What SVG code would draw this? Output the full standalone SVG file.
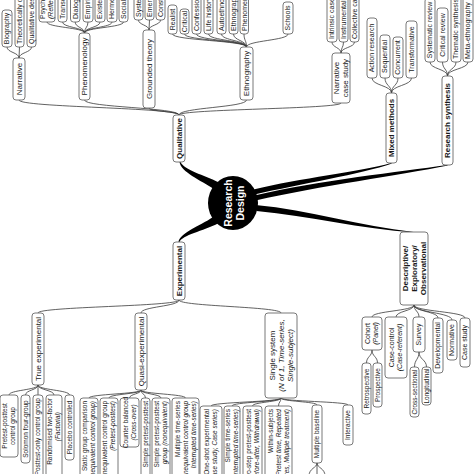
<svg xmlns="http://www.w3.org/2000/svg" width="474" height="474" viewBox="0 0 474 474">
<style>
.b{fill:#fff;stroke:#6a6a6a;stroke-width:.9}
.c{fill:none;stroke:#3a3a3a;stroke-width:.8}
.k{fill:#000}
text{font-family:"Liberation Sans",Arial,sans-serif;fill:#1a1a1a}
.t1{font-size:8px;font-weight:bold}
.t2{font-size:8px}
.t3{font-size:7px}
.t4{font-size:6.5px}
.i{font-style:italic}
.w{fill:#fff;font-size:10.5px;font-weight:bold}
</style>
<rect width="474" height="474" fill="#fff"/>
<g id="connectors">
<path class="k" d="M179.5,162 C181,172 200,180 214.8,189.4 L219.2,182.6 C204,175 184,170 180.5,162 Z"/>
<path class="k" d="M178.5,242 C180,233 198,227 213.6,216.8 L218.4,223.2 C203,231 182,235 179.5,242 Z"/>
<path class="k" d="M253.5,189.5 C300,178 360,172 391,163 L392,163.5 C362,174 300,184 254.5,194.5 Z"/>
<path class="k" d="M254.5,195.5 C320,180 400,172 447,165 L448,165.5 C400,175 320,186 255.5,200.5 Z"/>
<path class="k" d="M255.5,205 C310,210 360,226 413.5,232 L414.5,232.5 C360,229 310,216 256.5,211 Z"/>
<g class="c">
<path d="M179,115 C179,107.5 19,107.5 19,100 M179,115 C179,107.5 84.5,107.5 84.5,100 M179,115 C179,111.5 149,111.5 149,108 M179,115 C179,107.5 246.5,107.5 246.5,100 M179,115 C179,109 341,109 341,103"/>
<path d="M19,58 C19,52.5 7,52.5 7,47 M19,58 L19.5,47 M19,58 C19,52.5 31.5,52.5 31.5,47"/>
<path d="M84.5,33 C84.5,27.5 47,27.5 47,22 M84.5,33 C84.5,27.5 62.5,27.5 62.5,22 M84.5,33 C84.5,27.5 75.2,27.5 75.2,22 M84.5,33 C84.5,27.5 88,27.5 88,22 M84.5,33 C84.5,27.5 100,27.5 100,22 M84.5,33 C84.5,27.5 112,27.5 112,22 M84.5,33 C84.5,27.5 123.5,27.5 123.5,22"/>
<path d="M149,30 C149,25 138.5,25 138.5,20 M149,30 L149.5,20 M149,30 C149,25 160.5,25 160.5,20"/>
<path d="M246.5,47 C246.5,40.5 172.5,40.5 172.5,34 M246.5,47 C246.5,40.5 184.5,40.5 184.5,34 M246.5,47 C246.5,40.5 196.5,40.5 196.5,34 M246.5,47 C246.5,40.5 208.5,40.5 208.5,34 M246.5,47 C246.5,40.5 221.5,40.5 221.5,34 M246.5,47 C246.5,40.5 233.5,40.5 233.5,34 M246.5,47 C246.5,40.5 244,40.5 244,34 M246.5,47 C246.5,40.5 288,40.5 288,34"/>
<path d="M341,53 C341,47.5 332,47.5 332,42 M341,53 C341,47.5 343.5,47.5 343.5,42 M341,53 C341,47.5 354.5,47.5 354.5,42"/>
<path d="M391.5,93 C391.5,85.5 372,85.5 372,78 M391.5,93 C391.5,85.5 385,85.5 385,78 M391.5,93 C391.5,85.5 398,85.5 398,78 M391.5,93 C391.5,85.5 411.5,85.5 411.5,78"/>
<path d="M447.5,76 C447.5,69 430,69 430,62 M447.5,76 C447.5,69 442.5,69 442.5,62 M447.5,76 C447.5,69 456,69 456,62 M447.5,76 C447.5,69 468,69 468,62"/>
<path d="M179,300 C179,306.5 38,306.5 38,313 M179,300 C179,306.5 141,306.5 141,313 M179,300 C179,306.5 281,306.5 281,313"/>
<path d="M38,385 C38,390 9,390 9,395 M38,385 C38,390 25.5,390 25.5,395 M38,385 L38,395 M38,385 C38,390 54,390 54,395 M38,385 C38,390 69.5,390 69.5,395"/>
<path d="M141,390 C141,394 89,394 89,398 M141,390 C141,394 109,394 109,398 M141,390 C141,394 129.5,394 129.5,398 M141,390 C141,394 145.5,394 145.5,398 M141,390 C141,394 161,394 161,398 M141,390 C141,394 185.5,394 185.5,398"/>
<path d="M281,398 C281,402 211,402 211,406 M281,398 C281,402 232,402 232,406 M281,398 C281,402 252.5,402 252.5,406 M281,398 C281,402 278.5,402 278.5,406 M281,398 C281,401.5 317,401.5 317,405 M281,398 C281,401.5 348,401.5 348,405"/>
<path d="M317,463 C317,468 309,468 309,476 M317,463 L317,476 M317,463 C317,468 325,468 325,476"/>
<path d="M414,305 C414,311 372,311 372,317 M414,305 C414,311 396,311 396,317 M414,305 C414,311 419,311 419,317 M414,305 C414,311.5 438,311.5 438,318 M414,305 C414,312.5 452,312.5 452,320 M414,305 C414,311.5 465,311.5 465,318"/>
<path d="M372,350 C372,356.5 366.5,356.5 366.5,363 M372,350 C372,356.5 377.5,356.5 377.5,363"/>
<path d="M419,352 C419,359.5 414.5,359.5 414.5,367 M419,352 C419,359.5 426.5,359.5 426.5,367"/>
</g>
</g>

<g id="center"><ellipse cx="233" cy="203" rx="25" ry="27" fill="#000"/>
<text class="w" transform="translate(234,203) rotate(-90)" text-anchor="middle"><tspan x="0" y="-2.5">Research</tspan><tspan x="0" y="9.5">Design</tspan></text></g>

<g id="qualitative"><rect class="b" x="173" y="115" width="12" height="47" rx="3"/><text class="t1" transform="translate(179,138.5) rotate(-90)" text-anchor="middle" y="2.8">Qualitative</text></g>
<g id="experimental"><rect class="b" x="173" y="242" width="12" height="58" rx="3"/><text class="t1" transform="translate(179,271) rotate(-90)" text-anchor="middle" y="2.8">Experimental</text></g>
<g id="mixed"><rect class="b" x="386" y="93" width="11" height="70" rx="3"/><text class="t1" transform="translate(391.5,128) rotate(-90)" text-anchor="middle" y="2.8">Mixed methods</text></g>
<g id="synthesis"><rect class="b" x="442" y="76" width="11" height="89" rx="3"/><text class="t1" transform="translate(447.5,120.5) rotate(-90)" text-anchor="middle" y="2.8">Research synthesis</text></g>
<g id="descriptive"><rect class="b" x="400" y="232" width="28" height="73" rx="3"/><text class="t1" transform="translate(414,268.5) rotate(-90)" text-anchor="middle"><tspan x="0" y="-6.2">Descriptive/</tspan><tspan x="0" y="2.8">Exploratory/</tspan><tspan x="0" y="11.8">Observational</tspan></text></g>

<g id="narrative"><rect class="b" x="13" y="58" width="12" height="42" rx="3"/><text class="t2" transform="translate(19,79) rotate(-90)" text-anchor="middle" y="2.8">Narrative</text></g>
<g id="phenomenology"><rect class="b" x="79" y="33" width="11" height="67" rx="3"/><text class="t2" transform="translate(84.5,66.5) rotate(-90)" text-anchor="middle" y="2.8">Phenomenology</text></g>
<g id="grounded"><rect class="b" x="143" y="30" width="12" height="78" rx="3"/><text class="t2" transform="translate(149,69) rotate(-90)" text-anchor="middle" y="2.8">Grounded theory</text></g>
<g id="ethnography"><rect class="b" x="240" y="47" width="13" height="53" rx="3"/><text class="t2" transform="translate(246.5,73.5) rotate(-90)" text-anchor="middle" y="2.8">Ethnography</text></g>
<g id="narrative-case"><rect class="b" x="332" y="53" width="18" height="50" rx="3"/><text class="t2" transform="translate(341,78) rotate(-90)" text-anchor="middle"><tspan x="0" y="-1.7">Narrative</tspan><tspan x="0" y="7.3">case study</tspan></text></g>
<g id="true-exp"><rect class="b" x="32" y="313" width="12" height="72" rx="3"/><text class="t2" transform="translate(38,349) rotate(-90)" text-anchor="middle" y="2.8">True experimental</text></g>
<g id="quasi"><rect class="b" x="135" y="313" width="12" height="77" rx="3"/><text class="t2" transform="translate(141,351.5) rotate(-90)" text-anchor="middle" y="2.8">Quasi-experimental</text></g>
<g id="single"><rect class="b" x="265" y="313" width="32" height="85" rx="3"/><text class="t2" transform="translate(281,355.5) rotate(-90)" text-anchor="middle"><tspan x="0" y="-6.2">Single system</tspan><tspan class="i" x="0" y="2.8">(N of 1, Time-series,</tspan><tspan class="i" x="0" y="11.8">Single-subject)</tspan></text></g>

<g id="biography"><rect class="b" x="2" y="10" width="10" height="37" rx="3"/><text class="t3" transform="translate(7,28.5) rotate(-90)" text-anchor="middle" y="2.45">Biography</text></g>
<g id="theoretically"><rect class="b" x="15" y="-30" width="9" height="77" rx="3"/><text class="t3" transform="translate(19.5,44) rotate(-90)" y="2.45">Theoretically contextualised</text></g>
<g id="qual-desc"><rect class="b" x="27" y="-30" width="9" height="77" rx="3"/><text class="t3" transform="translate(31.5,44) rotate(-90)" y="2.45">Qualitative description</text></g>

<g id="psychological"><rect class="b" x="39" y="-30" width="16" height="52" rx="3"/><text class="t3" transform="translate(47,19) rotate(-90)"><tspan x="0" y="-1.55">Psychological</tspan><tspan class="i" x="0" y="6.45">(Reflective)</tspan></text></g>
<g id="transcendental"><rect class="b" x="58" y="-30" width="9" height="52" rx="3"/><text class="t3" transform="translate(62.5,19) rotate(-90)" y="2.45">Transcendental</text></g>
<g id="dialogical"><rect class="b" x="70.5" y="-30" width="9.5" height="52" rx="3"/><text class="t3" transform="translate(75.2,19) rotate(-90)" y="2.45">Dialogical</text></g>
<g id="empirical"><rect class="b" x="83" y="-30" width="10" height="52" rx="3"/><text class="t3" transform="translate(88,19) rotate(-90)" y="2.45">Empirical</text></g>
<g id="existential"><rect class="b" x="95" y="-30" width="10" height="52" rx="3"/><text class="t3" transform="translate(100,19) rotate(-90)" y="2.45">Existential</text></g>
<g id="hermeneutic"><rect class="b" x="107" y="-30" width="10" height="52" rx="3"/><text class="t3" transform="translate(112,19) rotate(-90)" y="2.45">Hermeneutic</text></g>
<g id="social"><rect class="b" x="119" y="-30" width="9" height="52" rx="3"/><text class="t3" transform="translate(123.5,19) rotate(-90)" y="2.45">Social</text></g>

<g id="systematic"><rect class="b" x="134" y="-30" width="9" height="50" rx="3"/><text class="t3" transform="translate(138.5,17) rotate(-90)" y="2.45">Systematic</text></g>
<g id="emerging"><rect class="b" x="145" y="-30" width="9" height="50" rx="3"/><text class="t3" transform="translate(149.5,17) rotate(-90)" y="2.45">Emerging</text></g>
<g id="constructivist"><rect class="b" x="156" y="-30" width="9" height="50" rx="3"/><text class="t3" transform="translate(160.5,17) rotate(-90)" y="2.45">Constructivist</text></g>

<g id="realist"><rect class="b" x="168" y="5" width="9" height="29" rx="3"/><text class="t3" transform="translate(172.5,19.5) rotate(-90)" text-anchor="middle" y="2.45">Realist</text></g>
<g id="critical"><rect class="b" x="180" y="9" width="9" height="25" rx="3"/><text class="t3" transform="translate(184.5,21.5) rotate(-90)" text-anchor="middle" y="2.45">Critical</text></g>
<g id="confessional"><rect class="b" x="192" y="-30" width="9" height="64" rx="3"/><text class="t3" transform="translate(196.5,31) rotate(-90)" y="2.45">Confessional</text></g>
<g id="life-history"><rect class="b" x="204" y="-30" width="9" height="64" rx="3"/><text class="t3" transform="translate(208.5,31) rotate(-90)" y="2.45">Life history</text></g>
<g id="autoethnography"><rect class="b" x="217" y="-30" width="9" height="64" rx="3"/><text class="t3" transform="translate(221.5,31) rotate(-90)" y="2.45">Autoethnography</text></g>
<g id="ethno-novel"><rect class="b" x="229" y="-30" width="9" height="64" rx="3"/><text class="t3" transform="translate(233.5,31) rotate(-90)" y="2.45">Ethnographic novels</text></g>
<g id="phenomenological"><rect class="b" x="240" y="-30" width="8.5" height="64" rx="3"/><text class="t3" transform="translate(244.2,31) rotate(-90)" y="2.45">Phenomenological</text></g>
<g id="schools"><rect class="b" x="283" y="2" width="10" height="32" rx="3"/><text class="t3" transform="translate(288,18) rotate(-90)" text-anchor="middle" y="2.45">Schools</text></g>

<g id="intrinsic"><rect class="b" x="327" y="-30" width="10" height="72" rx="3"/><text class="t3" transform="translate(332,39) rotate(-90)" y="2.45">Intrinsic case study</text></g>
<g id="instrumental"><rect class="b" x="339" y="-30" width="9" height="72" rx="3"/><text class="t3" transform="translate(343.5,39) rotate(-90)" y="2.45">Instrumental case study</text></g>
<g id="collective"><rect class="b" x="350" y="-30" width="9" height="72" rx="3"/><text class="t3" transform="translate(354.5,39) rotate(-90)" y="2.45">Collective case study</text></g>

<g id="action"><rect class="b" x="367" y="18" width="10" height="60" rx="3"/><text class="t3" transform="translate(372,48) rotate(-90)" text-anchor="middle" y="2.45">Action research</text></g>
<g id="sequential"><rect class="b" x="380" y="35" width="10" height="43" rx="3"/><text class="t3" transform="translate(385,56.5) rotate(-90)" text-anchor="middle" y="2.45">Sequential</text></g>
<g id="concurrent"><rect class="b" x="393" y="37" width="10" height="41" rx="3"/><text class="t3" transform="translate(398,57.5) rotate(-90)" text-anchor="middle" y="2.45">Concurrent</text></g>
<g id="transformative"><rect class="b" x="406" y="21" width="11" height="57" rx="3"/><text class="t3" transform="translate(411.5,49.5) rotate(-90)" text-anchor="middle" y="2.45">Transformative</text></g>

<g id="sys-review"><rect class="b" x="425" y="-2" width="10" height="64" rx="3"/><text class="t3" transform="translate(430,30) rotate(-90)" text-anchor="middle" y="2.45">Systematic review</text></g>
<g id="crit-review"><rect class="b" x="437" y="8" width="11" height="54" rx="3"/><text class="t3" transform="translate(442.5,35) rotate(-90)" text-anchor="middle" y="2.45">Critical review</text></g>
<g id="thematic"><rect class="b" x="451" y="-20" width="10" height="82" rx="3"/><text class="t3" transform="translate(456,59) rotate(-90)" y="2.45">Thematic synthesis</text></g>
<g id="meta"><rect class="b" x="463" y="-20" width="10" height="82" rx="3"/><text class="t3" transform="translate(468,59) rotate(-90)" y="2.45">Meta-ethnography</text></g>

<g id="pretest-control"><rect class="b" x="0" y="395" width="18" height="62" rx="3"/><text class="t4" transform="translate(9,426) rotate(-90)" text-anchor="middle"><tspan x="0" y="-1.7">Pretest-posttest</tspan><tspan x="0" y="6.3">control group</tspan></text></g>
<g id="solomon"><rect class="b" x="21" y="395" width="9" height="68" rx="3"/><text class="t4" transform="translate(25.5,429) rotate(-90)" text-anchor="middle" y="2.3">Solomon four-group</text></g>
<g id="posttest-only"><rect class="b" x="33" y="395" width="10" height="90" rx="3"/><text class="t4" transform="translate(38,398) rotate(-90)" text-anchor="end" y="2.3">Posttest-only control group</text></g>
<g id="randomised"><rect class="b" x="46" y="395" width="16" height="90" rx="3"/><text class="t4" transform="translate(54,398) rotate(-90)" text-anchor="end"><tspan x="0" y="-1.7">Randomised two-factor</tspan><tspan class="i" x="-14" y="6.3">(Factorial)</tspan></text></g>
<g id="placebo"><rect class="b" x="65" y="395" width="9" height="65" rx="3"/><text class="t4" transform="translate(69.5,427.5) rotate(-90)" text-anchor="middle" y="2.3">Placebo controlled</text></g>

<g id="static"><rect class="b" x="80" y="398" width="18" height="90" rx="3"/><text class="t4" transform="translate(89,401) rotate(-90)" text-anchor="end"><tspan x="0" y="-1.7">Static group comparison</tspan><tspan class="i" x="0" y="6.3">(Nonequivalent control group)</tspan></text></g>
<g id="noneq"><rect class="b" x="100" y="398" width="18" height="90" rx="3"/><text class="t4" transform="translate(109,401) rotate(-90)" text-anchor="end"><tspan x="0" y="-1.7">Nonequivalent control group</tspan><tspan class="i" x="0" y="6.3">(Pretest-posttest)</tspan></text></g>
<g id="counter"><rect class="b" x="120" y="398" width="19" height="49" rx="3"/><text class="t4" transform="translate(129.5,422.5) rotate(-90)" text-anchor="middle"><tspan x="0" y="-1.7">Counter balanced</tspan><tspan class="i" x="0" y="6.3">(Cross-over)</tspan></text></g>
<g id="simple-pp"><rect class="b" x="141" y="398" width="9" height="90" rx="3"/><text class="t4" transform="translate(145.5,401) rotate(-90)" text-anchor="end" y="2.3">Simple pretest-posttest</text></g>
<g id="simple-ppg"><rect class="b" x="152" y="398" width="18" height="90" rx="3"/><text class="t4" transform="translate(161,401) rotate(-90)" text-anchor="end"><tspan x="0" y="-1.7">Simple pretest-posttest</tspan><tspan class="i" x="0" y="6.3">group (nonequivalent)</tspan></text></g>
<g id="multi-ts"><rect class="b" x="172" y="398" width="27" height="90" rx="3"/><text class="t4" transform="translate(185.5,401) rotate(-90)" text-anchor="end"><tspan x="0" y="-5.7">Multiple time-series</tspan><tspan class="i" x="0" y="2.3">(Nonequivalent control group</tspan><tspan class="i" x="0" y="10.3">Interrupted time-series)</tspan></text></g>

<g id="one-shot"><rect class="b" x="200" y="406" width="22" height="90" rx="3"/><text class="t4" transform="translate(211,409) rotate(-90)" text-anchor="end"><tspan x="0" y="-1.7">One-shot experimental</tspan><tspan class="i" x="0" y="6.3">(Case study, Case series)</tspan></text></g>
<g id="simple-ts"><rect class="b" x="224" y="406" width="16" height="90" rx="3"/><text class="t4" transform="translate(232,409) rotate(-90)" text-anchor="end"><tspan x="0" y="-1.7">Simple time-series</tspan><tspan class="i" x="0" y="6.3">(Interrupted time-series)</tspan></text></g>
<g id="two-step"><rect class="b" x="243" y="406" width="19" height="90" rx="3"/><text class="t4" transform="translate(252.5,409) rotate(-90)" text-anchor="end"><tspan x="0" y="-1.7">Two-step pretest-posttest</tspan><tspan class="i" x="0" y="6.3">(Before-after, Withdrawal)</tspan></text></g>
<g id="within"><rect class="b" x="265" y="406" width="27" height="90" rx="3"/><text class="t4" transform="translate(278.5,409) rotate(-90)" text-anchor="end"><tspan x="0" y="-5.7">Within-subjects</tspan><tspan class="i" x="0" y="2.3">(Pretest time, Repeated</tspan><tspan class="i" x="0" y="10.3">measures, Multiple treatment)</tspan></text></g>
<g id="multi-base"><rect class="b" x="312" y="405" width="10" height="58" rx="3"/><text class="t4" transform="translate(317,434) rotate(-90)" text-anchor="middle" y="2.3">Multiple baseline</text></g>
<g id="interactive"><rect class="b" x="343" y="405" width="10" height="40" rx="3"/><text class="t4" transform="translate(348,425) rotate(-90)" text-anchor="middle" y="2.3">Interactive</text></g>

<g id="cohort"><rect class="b" x="362" y="317" width="20" height="33" rx="3"/><text class="t3" transform="translate(372,333.5) rotate(-90)" text-anchor="middle"><tspan x="0" y="-1.55">Cohort</tspan><tspan class="i" x="0" y="6.45">(Panel)</tspan></text></g>
<g id="case-control"><rect class="b" x="385" y="317" width="22" height="61" rx="3"/><text class="t3" transform="translate(396,347.5) rotate(-90)" text-anchor="middle"><tspan x="0" y="-1.55">Case-control</tspan><tspan class="i" x="0" y="6.45">(Case-referent)</tspan></text></g>
<g id="survey"><rect class="b" x="413" y="317" width="12" height="35" rx="3"/><text class="t3" transform="translate(419,334.5) rotate(-90)" text-anchor="middle" y="2.45">Survey</text></g>
<g id="developmental"><rect class="b" x="433" y="318" width="10" height="55" rx="3"/><text class="t3" transform="translate(438,345.5) rotate(-90)" text-anchor="middle" y="2.45">Developmental</text></g>
<g id="normative"><rect class="b" x="447" y="320" width="10" height="40" rx="3"/><text class="t3" transform="translate(452,340) rotate(-90)" text-anchor="middle" y="2.45">Normative</text></g>
<g id="case-study"><rect class="b" x="460" y="318" width="10" height="49" rx="3"/><text class="t3" transform="translate(465,342.5) rotate(-90)" text-anchor="middle" y="2.45">Case study</text></g>
<g id="retrospective"><rect class="b" x="362" y="363" width="9" height="51" rx="3"/><text class="t4" transform="translate(366.5,388.5) rotate(-90)" text-anchor="middle" y="2.3">Retrospective</text></g>
<g id="prospective"><rect class="b" x="373" y="363" width="9" height="44" rx="3"/><text class="t4" transform="translate(377.5,385) rotate(-90)" text-anchor="middle" y="2.3">Prospective</text></g>
<g id="cross-sectional"><rect class="b" x="410" y="367" width="9" height="50" rx="3"/><text class="t4" transform="translate(414.5,392) rotate(-90)" text-anchor="middle" y="2.3">Cross-sectional</text></g>
<g id="longitudinal"><rect class="b" x="422" y="367" width="9" height="38" rx="3"/><text class="t4" transform="translate(426.5,386) rotate(-90)" text-anchor="middle" y="2.3">Longitudinal</text></g>
</svg>
